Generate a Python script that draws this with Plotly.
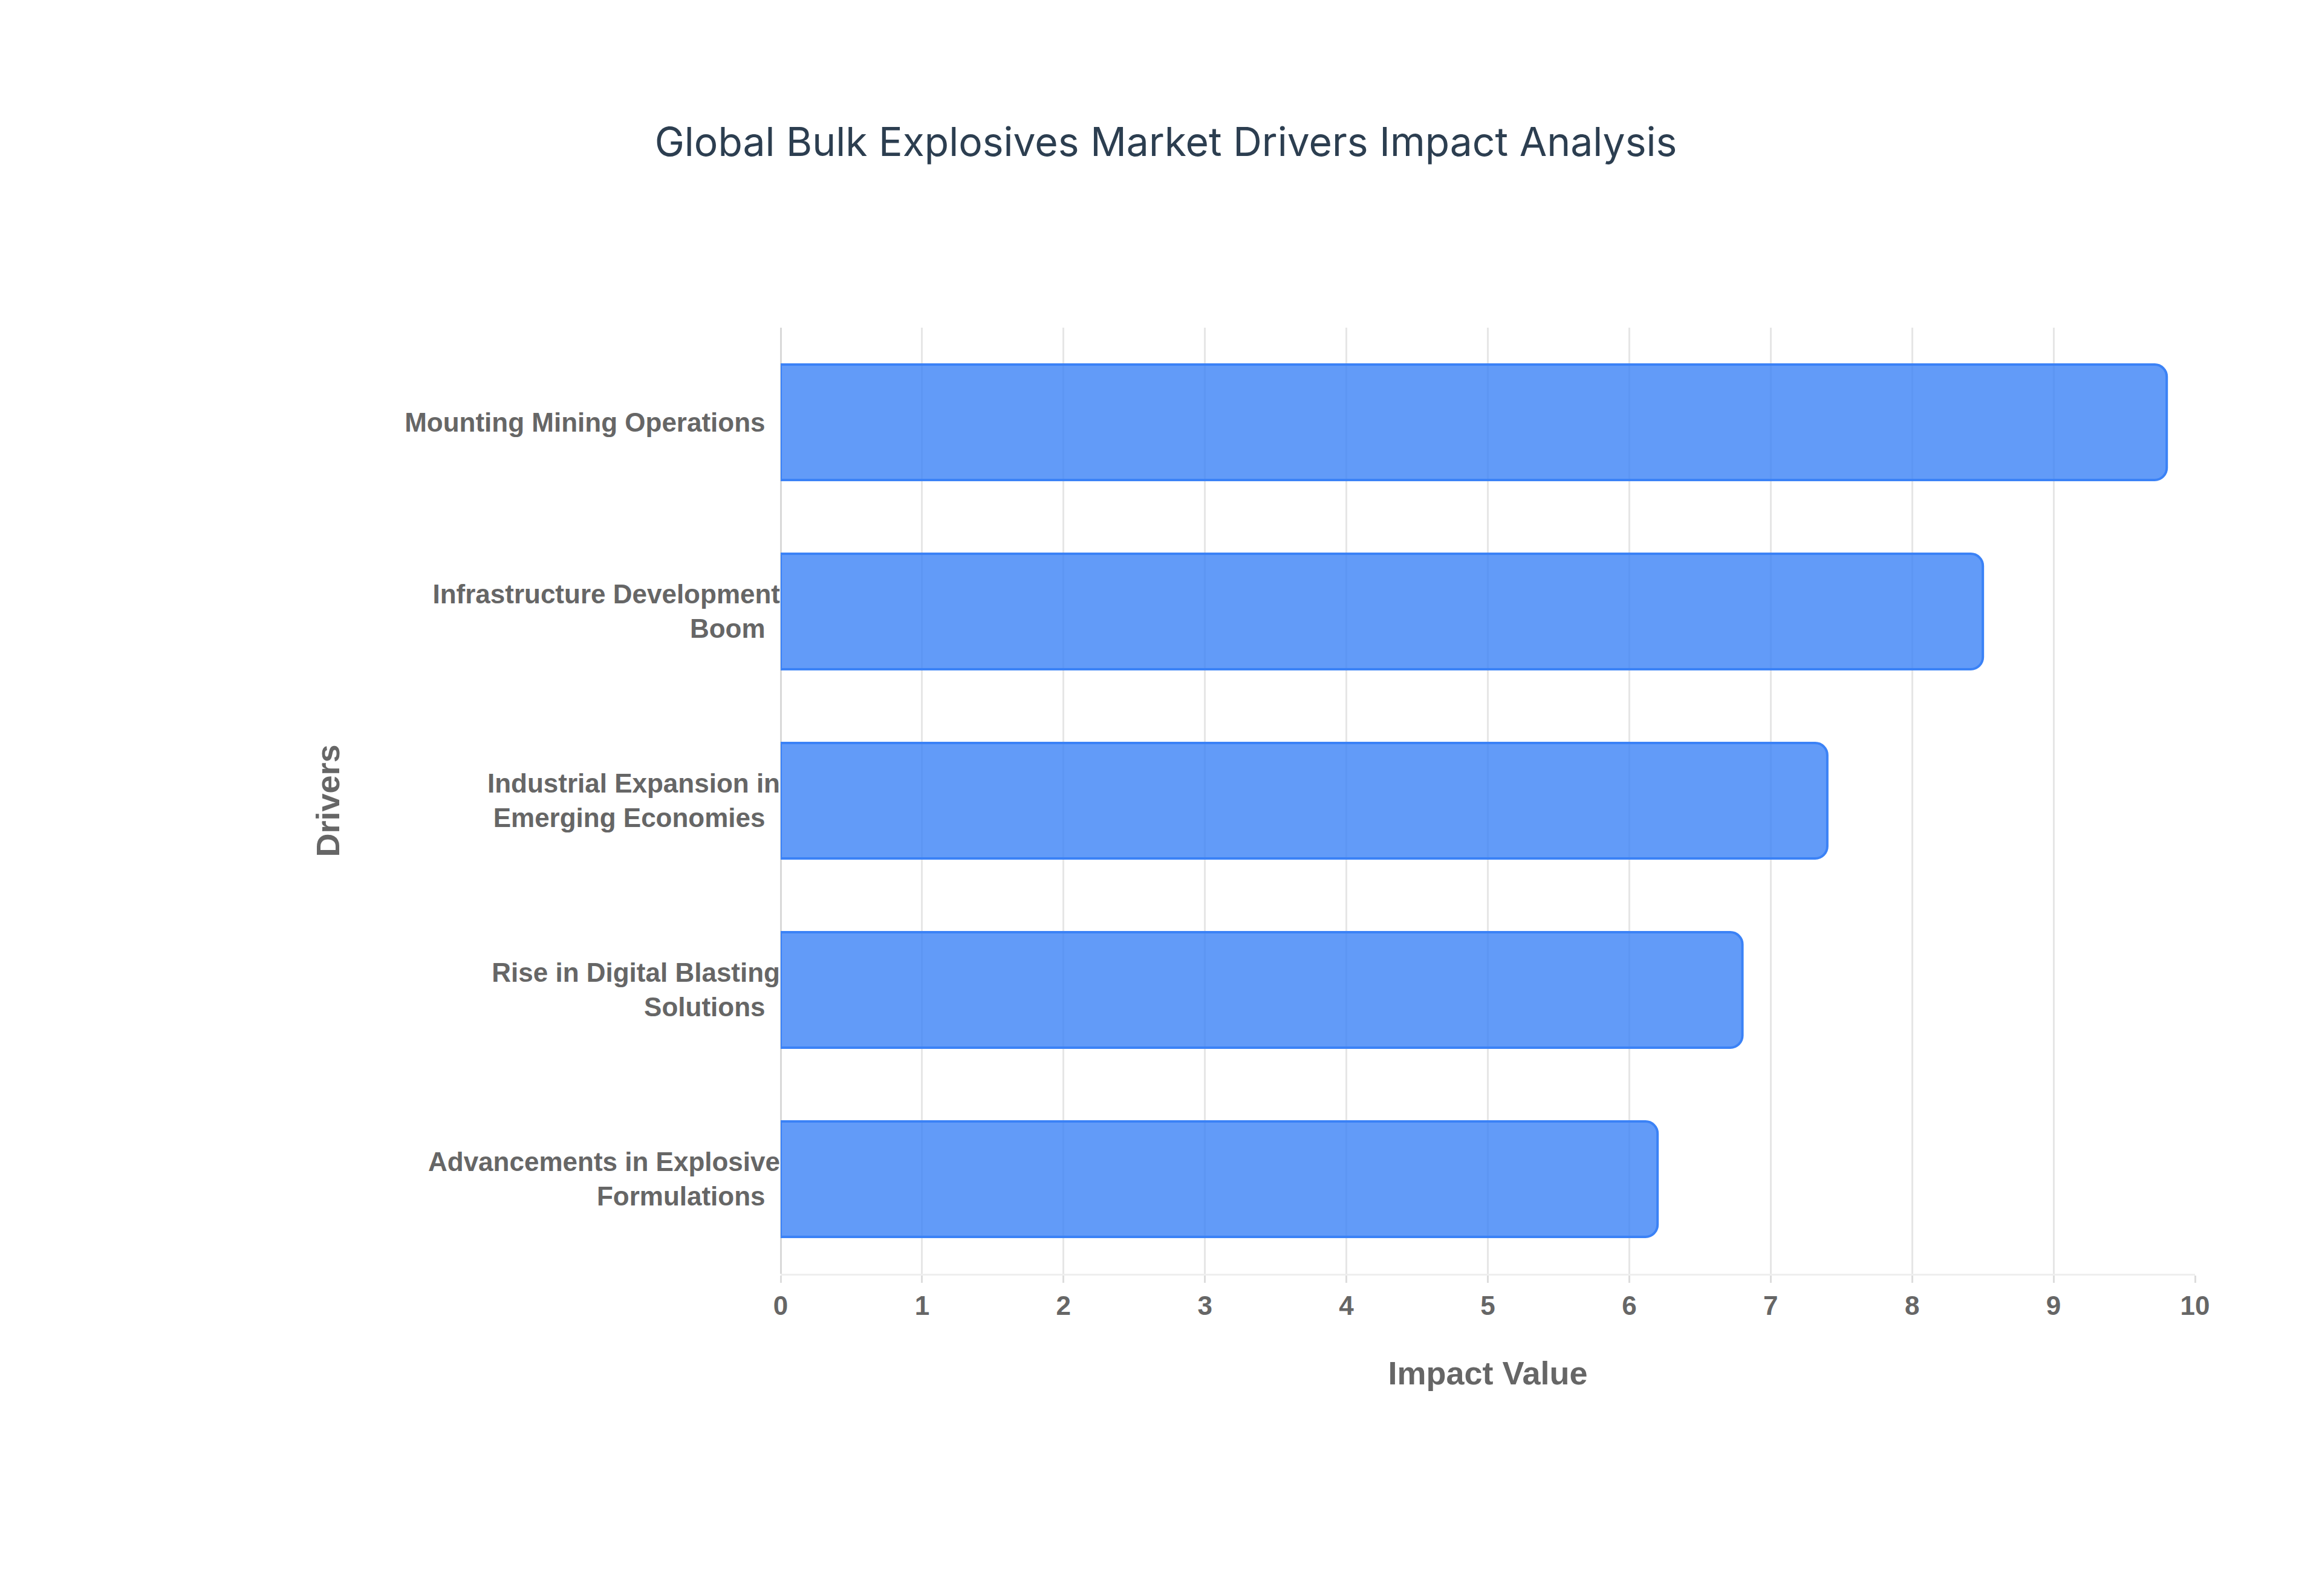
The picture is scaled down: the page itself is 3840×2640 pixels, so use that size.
import plotly.graph_objects as go

drivers = [
    "Advancements in Explosive<br>Formulations",
    "Rise in Digital Blasting<br>Solutions",
    "Industrial Expansion in<br>Emerging Economies",
    "Infrastructure Development<br>Boom",
    "Mounting Mining Operations",
]
impact = [6.2, 6.8, 7.4, 8.5, 9.8]
x_ticks = list(range(0, 11))

fig = go.Figure()
fig.add_trace(go.Bar(
    x=impact,
    y=drivers,
    orientation='h',
    marker=dict(color='rgba(59, 130, 246, 0.8)', line=dict(color='#3b82f6', width=4)),
))

tick_font = dict(family='Liberation Sans', size=44, color='#666666', weight='bold')

fig.update_layout(
    width=3840,
    height=2640,
    paper_bgcolor='white',
    plot_bgcolor='white',
    showlegend=False,
    bargap=0.39,
    barcornerradius=20,
    margin=dict(l=1283, r=218, t=534, b=541),
    title=dict(
        text='Global Bulk Explosives Market Drivers Impact Analysis',
        x=0.5, xanchor='center', y=0.914, yanchor='middle',
        font=dict(family='Inter', size=66, color='#2c3e50'),
    ),
    xaxis=dict(
        range=[0, 10], tickvals=x_ticks, tickfont=tick_font,
        gridcolor='#e6e6e6', gridwidth=3, zeroline=True, zerolinecolor='#d9d9d9', zerolinewidth=3,
        showline=True, linecolor='#eeeeee', linewidth=3,
        ticks='outside', tickcolor='#dddddd', ticklen=12, tickwidth=3,
        title=dict(text='Impact Value', standoff=70,
                   font=dict(family='Liberation Sans', size=54, color='#666666', weight='bold')),
    ),
    yaxis=dict(
        tickfont=tick_font, ticksuffix='  ', showgrid=False,
        title=dict(text='Drivers', standoff=90,
                   font=dict(family='Liberation Sans', size=54, color='#666666', weight='bold')),
    ),
)

fig.write_html("out.html")
